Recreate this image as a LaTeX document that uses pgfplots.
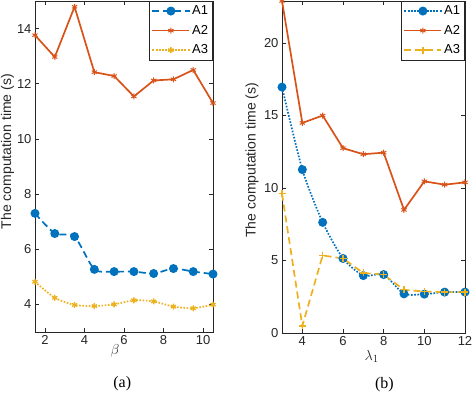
\documentclass[border=0pt]{standalone}
\usepackage{pgfplots}
\pgfplotsset{compat=1.18}
\usepackage{pgfplotstable}
\usepackage{fontspec}
\setmainfont{Liberation Sans}
\newfontfamily\capfont{Liberation Serif}
\definecolor{mblue}{rgb}{0,0.447,0.741}
\definecolor{morange}{rgb}{0.85,0.325,0.098}
\definecolor{myellow}{rgb}{0.929,0.694,0.125}
\definecolor{axgray}{rgb}{0.15,0.15,0.15}

\pgfplotstableread{
x A1 A2 A3
1.5 7.30 13.76 4.82
2.5 6.57 12.97 4.24
3.5 6.46 14.79 3.98
4.5 5.27 12.42 3.94
5.5 5.19 12.28 4.00
6.5 5.19 11.54 4.15
7.5 5.12 12.12 4.11
8.5 5.30 12.16 3.92
9.5 5.19 12.50 3.86
10.5 5.10 11.30 3.99
}\dataA
\pgfplotstableread{
x A1 A2 A3
3 16.96 22.9 9.61
4 11.27 14.49 0.49
5 7.63 15.00 5.35
6 5.14 12.75 5.14
7 3.96 12.33 4.14
8 4.03 12.44 4.03
9 2.70 8.49 2.98
10 2.68 10.46 2.86
11 2.82 10.23 2.82
12 2.82 10.39 2.82
}\dataB

\pgfplotsset{
  mstyle/.style={
    scale only axis,
    axis line style={draw=axgray, line width=0.7pt},
    tick style={draw=axgray, line width=0.7pt},
    tick align=inside,
    major tick length=4pt,
    ticklabel style={font=\fontsize{13}{15}\selectfont, text=axgray},
    /pgf/number format/assume math mode=true,
    label style={font=\fontsize{14}{16}\selectfont, text=axgray},
    clip=false,
    legend cell align=left,
    legend style={at={(1,1)}, anchor=north east, draw=axgray, fill=white,
      font=\fontsize{13}{15}\selectfont, row sep=5pt, inner sep=2.5pt, line width=0.7pt},
    legend image code/.code={
      \draw[mark repeat=2,mark phase=2] plot coordinates {(0cm,0cm)(0.65cm,0cm)(1.3cm,0cm)};},
  }
}

\begin{document}
\begin{tikzpicture}
\useasboundingbox (0,0) rectangle (474pt,398pt);
\begin{axis}[mstyle,
  at={(35pt,66pt)}, anchor=south west,
  width=178pt, height=331pt,
  xmin=1.5, xmax=10.5, ymin=3, ymax=15,
  xtick={2,4,6,8,10}, ytick={4,6,8,10,12,14},
  xlabel={$\beta$},
  xlabel style={at={(axis description cs:0.45,-0.058)}, anchor=center, font=\fontsize{15}{17}\selectfont},
  ylabel={The computation time (s)},
  ylabel style={at={(axis description cs:-0.155,0.545)}, anchor=center},
]
\addplot[mblue, line width=1.7pt, dash pattern=on 7pt off 4pt, smooth, tension=0.4,
  mark=*, mark size=3.6pt, mark options={solid, fill=mblue}] table[x=x,y=A1] {\dataA};
\addlegendentry{A1}
\addplot[morange, line width=1.7pt, mark=asterisk, mark size=3pt, mark options={solid, line width=1pt}] table[x=x,y=A2] {\dataA};
\addlegendentry{A2}
\addplot[myellow, line width=1.7pt, dash pattern=on 1.6pt off 1.6pt, smooth, tension=0.4,
  mark=asterisk, mark size=3pt, mark options={solid, line width=1.3pt}] table[x=x,y=A3] {\dataA};
\addlegendentry{A3}
\node[font=\capfont\fontsize{16}{18}\selectfont] at (axis description cs:0.49,-0.155) {(a)};
\end{axis}

\begin{axis}[mstyle,
  at={(282pt,65pt)}, anchor=south west,
  width=183pt, height=332pt,
  xmin=3, xmax=12, ymin=0, ymax=22.9,
  xtick={4,6,8,10,12}, ytick={0,5,10,15,20},
  xlabel={$\lambda_1$},
  xlabel style={at={(axis description cs:0.49,-0.07)}, anchor=center, font=\fontsize{15}{17}\selectfont},
  ylabel={The computation time (s)},
  ylabel style={at={(axis description cs:-0.164,0.52)}, anchor=center},
]
\addplot[mblue, line width=1.7pt, dash pattern=on 1.6pt off 1.6pt, smooth, tension=0.4,
  mark=*, mark size=3.6pt, mark options={solid, fill=mblue}] table[x=x,y=A1] {\dataB};
\addlegendentry{A1}
\addplot[morange, line width=1.7pt, mark=asterisk, mark size=3pt, mark options={solid, line width=1pt}] table[x=x,y=A2] {\dataB};
\addlegendentry{A2}
\addplot[myellow, line width=1.7pt, dash pattern=on 7pt off 4pt,
  mark=+, mark size=3.5pt, mark options={solid, line width=1.4pt}] table[x=x,y=A3] {\dataB};
\addlegendentry{A3}
\node[font=\capfont\fontsize{16}{18}\selectfont] at (axis description cs:0.56,-0.155) {(b)};
\end{axis}
\end{tikzpicture}
\end{document}
